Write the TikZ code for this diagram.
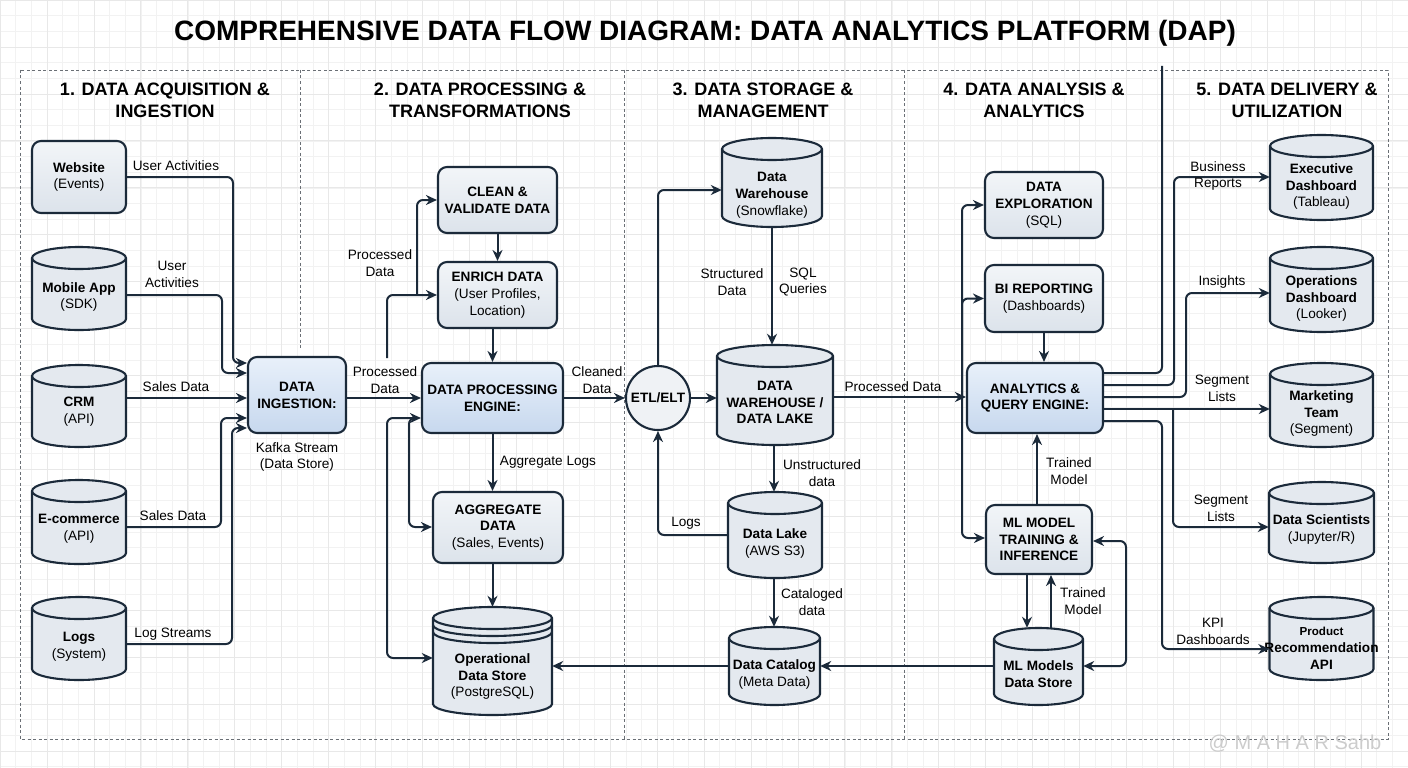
\documentclass[tikz,border=0pt]{standalone}
\usepackage{fontspec}
\setmainfont{Liberation Sans}
\usetikzlibrary{arrows.meta}
\definecolor{navy}{HTML}{1B2A3A}
\definecolor{boxtop}{HTML}{F2F5F8}
\definecolor{boxbot}{HTML}{DCE3EB}
\definecolor{bluetop}{HTML}{E8F0FA}
\definecolor{bluebot}{HTML}{C7D8EE}
\definecolor{dbcol}{HTML}{E4E9EF}
\definecolor{framecol}{HTML}{6A6F75}
\newcommand\myfont{\fontsize{13.6}{16.8}\selectfont}
\newcommand\mysmallfont{\fontsize{11.6}{14}\selectfont}
\newcommand\dbshape[7]{%
  \filldraw[dbbody] ({#2-#4/2},{#3-#5/2+11}) -- ({#2-#4/2},{#3+#5/2-11})
     arc[start angle=180,end angle=360,x radius={#4/2*1pt},y radius=11pt]
     -- ({#2+#4/2},{#3-#5/2+11})
     arc[start angle=0,end angle=180,x radius={#4/2*1pt},y radius=11pt] -- cycle;
  \draw[dbline] ({#2-#4/2},{#3-#5/2+11}) arc[start angle=180,end angle=360,x radius={#4/2*1pt},y radius=11pt];
  \node[dbbox,minimum width=#4pt,minimum height=#5pt] (#1) at (#2,#3) {};
  \node[dbtxt] (#1-t) at (#2,{#3+#6}) {#7};
}
\begin{document}
\begin{tikzpicture}[x=1pt,y=-1pt,
  arr/.style={draw=navy,line width=2pt,rounded corners=6pt,-{Stealth[length=11pt,width=10pt]}},
  arrboth/.style={draw=navy,line width=2pt,rounded corners=6pt,{Stealth[length=11pt,width=10pt]}-{Stealth[length=11pt,width=10pt]}},
  plainline/.style={draw=navy,line width=2pt,rounded corners=6pt},
  box/.style={draw=navy,line width=2.1pt,rounded corners=9pt,top color=boxtop,bottom color=boxbot,align=center,font=\myfont,inner sep=2pt},
  bluebox/.style={box,top color=bluetop,bottom color=bluebot},
  dbbody/.style={draw=navy,line width=2.1pt,fill=dbcol},
  dbline/.style={draw=navy,line width=2.1pt},
  dbbox/.style={draw=none,inner sep=0pt},
  dbtxt/.style={align=center,font=\myfont,inner sep=1pt},
  lbl/.style={align=center,font=\myfont,inner sep=1pt},
  head/.style={align=center,font=\fontsize{18}{22}\selectfont\bfseries},
  framel/.style={draw=framecol,line width=0.9pt,dash pattern=on 3pt off 2.5pt},
  gridminor/.style={draw=black!5,line width=0.4pt},
  gridmajor/.style={draw=black!9,line width=0.6pt}
]
\useasboundingbox (0,0) rectangle (1408,768);
\fill[white] (0,0) rectangle (1408,768);
% grid
\foreach \i in {0,...,90} { \draw[gridminor] ({\i*15.644},0) -- ({\i*15.644},768); }
\foreach \i in {0,...,49} { \draw[gridminor] (0,{\i*15.644}) -- (1408,{\i*15.644}); }
\foreach \i in {0,...,30} { \draw[gridmajor] ({\i*46.93},0) -- ({\i*46.93},768); }
\foreach \i in {0,...,16} { \draw[gridmajor] (0,{\i*46.93}) -- (1408,{\i*46.93}); }

% title
\node[font=\fontsize{28}{30}\selectfont\bfseries] (title) at (705,33) {COMPREHENSIVE DATA FLOW DIAGRAM: DATA ANALYTICS PLATFORM (DAP)};

% frame
\draw[framel] (20,70) rectangle (1388,739);
\draw[framel] (300,70) -- (300,350);
\draw[framel] (624,70) -- (624,739);
\draw[framel] (904,70) -- (904,739);

% headings
\node[head] (h1) at (165,100) {1. DATA ACQUISITION \&\\INGESTION};
\node[head] (h2) at (480,100) {2. DATA PROCESSING \&\\TRANSFORMATIONS};
\node[head] (h3) at (763,100) {3. DATA STORAGE \&\\MANAGEMENT};
\node[head] (h4) at (1034,100) {4. DATA ANALYSIS \&\\ANALYTICS};
\node[head] (h5) at (1287,100) {5. DATA DELIVERY \&\\UTILIZATION};

% section 1
\node[box,minimum width=94pt,minimum height=72pt] (web) at (79,177) {\textbf{Website}\\(Events)};
\dbshape{mob}{79}{288.5}{94}{83}{8.5}{\textbf{Mobile App}\\(SDK)}
\dbshape{crm}{79}{406}{94}{82}{6}{\textbf{CRM}\\(API)}
\dbshape{ecom}{79}{522}{94}{84}{7}{\textbf{E-commerce}\\(API)}
\dbshape{logs}{79}{638.5}{94}{83}{8}{\textbf{Logs}\\(System)}
\node[bluebox,minimum width=98pt,minimum height=76pt] (ing) at (297,395) {\textbf{DATA}\\\textbf{INGESTION:}};
\node[lbl] (lkafka) at (297,457) {Kafka Stream\\(Data Store)};

% section 2
\node[box,minimum width=119pt,minimum height=66pt] (clean) at (497.5,200) {\textbf{CLEAN \&}\\\textbf{VALIDATE DATA}};
\node[box,minimum width=119pt,minimum height=66pt] (enrich) at (497.5,295) {\textbf{ENRICH DATA}\\(User Profiles,\\Location)};
\node[bluebox,minimum width=141pt,minimum height=70pt] (engine) at (492.5,398) {\textbf{DATA PROCESSING}\\\textbf{ENGINE:}};
\node[box,minimum width=130pt,minimum height=71pt] (agg) at (498,527.5) {\textbf{AGGREGATE}\\\textbf{DATA}\\(Sales, Events)};
\dbshape{ods}{492.5}{661}{119}{108}{15.5}{\textbf{Operational}\\\textbf{Data Store}\\(PostgreSQL)}
\draw[dbline] (433,{607+11+7}) arc[start angle=180,end angle=360,x radius=59.5pt,y radius=11pt];
\draw[dbline] (433,{607+11+14}) arc[start angle=180,end angle=360,x radius=59.5pt,y radius=11pt];

% section 3
\node[circle,draw=navy,line width=2.1pt,fill=dbcol!60,minimum size=64pt,inner sep=0pt,font=\myfont\bfseries] (etl) at (658,398) {ETL/ELT};
\dbshape{snow}{772}{182.5}{100}{89}{13}{\textbf{Data}\\\textbf{Warehouse}\\(Snowflake)}
\dbshape{dwdl}{775}{395}{116}{100}{7.5}{\textbf{DATA}\\\textbf{WAREHOUSE /}\\\textbf{DATA LAKE}}
\dbshape{lake}{775}{535}{94}{86}{8.5}{\textbf{Data Lake}\\(AWS S3)}
\dbshape{catalog}{774.5}{666}{91}{78}{8.5}{\textbf{Data Catalog}\\(Meta Data)}

% section 4
\node[box,minimum width=118pt,minimum height=66pt] (explore) at (1044,205) {\textbf{DATA}\\\textbf{EXPLORATION}\\(SQL)};
\node[box,minimum width=118pt,minimum height=67pt] (bi) at (1044,298.5) {\textbf{BI REPORTING}\\(Dashboards)};
\node[bluebox,minimum width=136pt,minimum height=70pt] (aqe) at (1035,398) {\textbf{ANALYTICS \&}\\\textbf{QUERY ENGINE:}};
\node[box,minimum width=106pt,minimum height=69pt] (mltrain) at (1039,539.5) {\textbf{ML MODEL}\\\textbf{TRAINING \&}\\\textbf{INFERENCE}};
\dbshape{mlstore}{1038.5}{666.5}{89}{77}{8}{\textbf{ML Models}\\\textbf{Data Store}}

% section 5
\dbshape{exec}{1321.5}{177.5}{103}{85}{9}{\textbf{Executive}\\\textbf{Dashboard}\\(Tableau)}
\dbshape{ops}{1321.5}{289.5}{103}{85}{9}{\textbf{Operations}\\\textbf{Dashboard}\\(Looker)}
\dbshape{mkt}{1321.5}{405}{103}{84}{8.5}{\textbf{Marketing}\\\textbf{Team}\\(Segment)}
\dbshape{ds}{1321.5}{522.5}{105}{81}{7}{\textbf{Data Scientists}\\(Jupyter/R)}
\dbshape{pr}{1321.5}{638.5}{104}{83}{9.5}{\mysmallfont\textbf{Product}\\\textbf{Recommendation}\\\textbf{API}}

% ---------- connectors section 1
\draw[arr] (web.east) -| (233,363) -- (ing.west |- 0,363);
\draw[arr] (mob.east |- 0,295) -| (222,373) -- (ing.west |- 0,373);
\draw[arr] (crm.east |- 0,398) -- (ing.west |- 0,398);
\draw[arr] (ecom.east |- 0,527) -| (221,418) -- (ing.west |- 0,418);
\draw[arr] (logs.east |- 0,644) -| (232,428) -- (ing.west |- 0,428);
\node[lbl] (lweb) at (176,166) {User Activities};
\node[lbl] (lmob) at (172,274) {User\\Activities};
\node[lbl] (lcrm) at (176,387) {Sales Data};
\node[lbl] (lecom) at (173,516) {Sales Data};
\node[lbl] (llogs) at (173,634) {Log Streams};

% ---------- section 2
\draw[arr] (ing.east |- 0,398) -- (engine.west |- 0,398);
\node[lbl] (lpd1) at (385,380) {Processed\\Data};
\coordinate (pdstart) at (387,358);
\coordinate (pdjoin) at (417,295);
\draw[arr] (pdstart) |- (enrich.west |- 0,295);
\draw[arr] (pdjoin) |- (clean.west |- 0,200);
\node[lbl] (lpd2) at (380,263) {Processed\\Data};
\draw[arr] (clean.south) -- (enrich.north);
\draw[arr] (engine.north |- enrich.south) -- (engine.north);
\draw[arr] (engine.south) -- (engine.south |- agg.north);
\node[lbl] (lagg) at (548,462) {Aggregate Logs};
\draw[arr] (ods.north |- agg.south) -- (ods.north);
\draw[arrboth] (engine.west |- 0,418) -| (409,527) -- (agg.west |- 0,527);
\coordinate (fbjoin) at (416,418);
\draw[arr] (fbjoin) -| (387,658) -- (ods.west |- 0,658);
\draw[arr] (engine.east |- etl.west) -- (etl.west);
\node[lbl] (lclean) at (597,380) {Cleaned\\Data};

% ---------- section 3
\draw[arr] (etl.east) -- (dwdl.west |- etl.east);
\draw[arr] (etl.north) |- (snow.west |- 0,190);
\draw[arr] (snow.south) -- (snow.south |- dwdl.north);
\node[lbl] (lstruct) at (732,282) {Structured\\Data};
\node[lbl] (lsql) at (803,282) {SQL\\Queries};
\draw[arr] (dwdl.south -| 774,0) -- (lake.north -| 774,0);
\node[lbl] (lunstr) at (822,473) {Unstructured\\data};
\draw[arr] (lake.west) -| (etl.south);
\node[lbl] (llogs2) at (686,523) {Logs};
\draw[arr] (lake.south -| 774,0) -- (catalog.north -| 774,0);
\node[lbl] (lcat) at (812,602) {Cataloged\\data};
\draw[arr] (catalog.west |- 0,666) -- (ods.east |- 0,666);
\draw[arr] (mlstore.west |- 0,666) -- (catalog.east |- 0,666);
\draw[arr] (dwdl.east |- 0,397) -- (aqe.west |- 0,397);
\node[lbl] (lproc) at (893,387) {Processed Data};

% ---------- section 4
\coordinate (bus) at (962,397);
\draw[arr] (bus) |- (explore.west);
\draw[arr] (bus) |- (bi.west);
\draw[arr] (bus) |- (mltrain.west |- 0,538);
\draw[arr] (bi.south) -- (bi.south |- aqe.north);
\draw[arr] (mltrain.north -| 1037,0) -- (aqe.south -| 1037,0);
\node[lbl] (ltm1) at (1069,471) {Trained\\Model};
\draw[arr] (mltrain.south -| 1027,0) -- (mlstore.north -| 1027,0);
\draw[arr] (mlstore.north -| 1051,0) -- (mltrain.south -| 1051,0);
\node[lbl] (ltm2) at (1083,601) {Trained\\Model};
\draw[arrboth] (mltrain.east |- 0,541) -| (1126,666) -- (mlstore.east |- 0,666);

% ---------- section 5
\coordinate (topend) at (1162,66);
\draw[plainline] (aqe.east |- 0,373) -| (topend);
\draw[arr] (aqe.east |- 0,385) -| (1174,177) -- (exec.west |- 0,177);
\node[lbl] (lbr) at (1218,176) {Business\\Reports};
\draw[arr] (aqe.east |- 0,397) -| (1186,293) -- (ops.west |- 0,293);
\node[lbl] (lins) at (1222,282) {Insights};
\draw[arr] (aqe.east |- 0,409) -- (mkt.west |- 0,409);
\node[lbl] (lseg1) at (1222,388) {Segment\\Lists};
\coordinate (dsjoin) at (1173,409);
\draw[arr] (dsjoin) |- (ds.west |- 0,527);
\node[lbl] (lseg2) at (1221,508) {Segment\\Lists};
\draw[arr] (aqe.east |- 0,421) -| (1162,649) -- (pr.west |- 0,649);
\node[lbl] (lkpi) at (1213,631) {KPI\\Dashboards};

% watermark
\node[font=\fontsize{20}{22}\selectfont,text=black!20] (wm) at (1295,744) {@ M A H A R Sahb};
\end{tikzpicture}
\end{document}
